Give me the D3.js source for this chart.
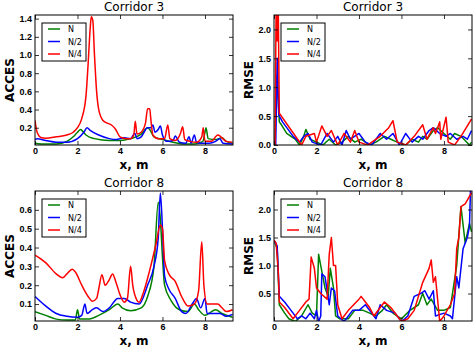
<!DOCTYPE html>
<html>
<head>
<meta charset="utf-8">
<script src="https://cdn.jsdelivr.net/npm/d3@7"></script>
<style>
  body { margin: 0; background: #fff; }
  svg { font-family: "DejaVu Sans", sans-serif; }
  .tick text { font-size: 9px; font-weight: bold; }
  .title { font-size: 12px; }
  .alabel { font-size: 12px; font-weight: bold; }
  .legtext { font-size: 8px; }
</style>
</head>
<body>
<div id="chart"></div>
<script>
// series names + colours
const seriesNames = ["N", "N/2", "N/4"];
const seriesColors = ["#008000", "#0000ff", "#ff0000"];

// Corridor 3 - ACCES  [x, value]
const c3AccesN = [[0,0.03],[0.5,0.02],[1,0.02],[1.5,0.05],[1.8,0.1],[2,0.15],[2.15,0.18],[2.25,0.16],[2.4,0.12],[2.8,0.08],[3.5,0.06],[4,0.06],[4.5,0.08],[5,0.13],[5.3,0.2],[5.4,0.18],[5.6,0.1],[6,0.07],[6.5,0.04],[7,0.02],[7.5,0.02],[7.9,0.05],[8,0.15],[8.05,0.2],[8.15,0.08],[8.5,0.07],[8.8,0.09],[9,0.05],[9.3,0.03]];
const c3AccesN2 = [[0,0.07],[0.1,0.08],[0.5,0.06],[1,0.04],[1.5,0.04],[2,0.08],[2.3,0.15],[2.45,0.2],[2.6,0.17],[3,0.12],[3.5,0.08],[3.8,0.07],[4,0.08],[4.2,0.09],[4.5,0.08],[4.7,0.14],[4.8,0.08],[5,0.1],[5.3,0.2],[5.45,0.2],[5.55,0.23],[5.65,0.15],[5.8,0.18],[5.9,0.22],[6,0.12],[6.2,0.05],[6.5,0.06],[6.6,0.11],[6.8,0.04],[7.1,0.03],[7.25,0.1],[7.35,0.03],[7.5,0.12],[7.6,0.04],[7.8,0.03],[8.2,0.03],[8.5,0.05],[8.7,0.08],[8.85,0.03],[9.3,0.02]];
const c3AccesN4 = [[0,0.28],[0.1,0.15],[0.3,0.09],[0.5,0.085],[1,0.1],[1.5,0.12],[1.8,0.15],[2,0.2],[2.2,0.3],[2.4,0.55],[2.5,0.9],[2.6,1.3],[2.65,1.42],[2.72,1.38],[2.8,1.0],[2.9,0.6],[3,0.4],[3.2,0.28],[3.4,0.25],[3.6,0.23],[3.8,0.18],[4,0.1],[4.3,0.08],[4.5,0.08],[4.65,0.12],[4.72,0.27],[4.8,0.13],[5,0.15],[5.2,0.25],[5.3,0.41],[5.4,0.41],[5.45,0.3],[5.55,0.12],[5.8,0.08],[6.1,0.08],[6.25,0.23],[6.35,0.08],[6.6,0.06],[6.85,0.14],[6.95,0.21],[7.05,0.07],[7.3,0.05],[7.6,0.04],[7.85,0.1],[7.92,0.2],[8,0.05],[8.3,0.05],[8.6,0.12],[8.75,0.1],[9,0.05],[9.3,0.04]];

// Corridor 3 - RMSE
const c3RmseN = [[0.05,0],[0.12,1.2],[0.2,0.8],[0.25,0.4],[0.35,0.35],[0.6,0.2],[0.8,0.15],[1,0.1],[1.2,0],[1.4,0.15],[1.5,0.27],[1.7,0.1],[2,0.05],[2.3,0],[2.6,0.1],[2.9,0],[3.2,0.05],[3.5,0.15],[3.8,0.05],[4.1,0.1],[4.5,0],[4.8,0.05],[5.2,0.15],[5.5,0.1],[5.8,0.05],[6.2,0],[6.5,0.1],[6.8,0.05],[7,0.15],[7.2,0.1],[7.5,0.25],[7.7,0.3],[8,0.2],[8.3,0.1],[8.5,0.2],[8.8,0.15],[9.2,0],[9.3,0.05]];
const c3RmseN2 = [[0.08,0],[0.15,1.5],[0.22,0.55],[0.25,0.5],[0.4,0.4],[0.6,0.3],[0.9,0.15],[1.2,0.05],[1.4,0.15],[1.6,0.2],[1.8,0.05],[2.2,0],[2.5,0.2],[2.8,0.05],[3,0.15],[3.2,0],[3.4,0.25],[3.6,0.1],[4,0.2],[4.3,0.05],[4.6,0],[5,0.2],[5.3,0.1],[5.6,0.2],[5.9,0],[6.2,0.2],[6.5,0.05],[6.8,0.15],[7,0.1],[7.3,0.25],[7.5,0.3],[7.8,0.2],[8.1,0.15],[8.3,0.2],[8.6,0.1],[8.9,0.15],[9.1,0.1],[9.3,0.25]];
const c3RmseN4 = [[0,0],[0.05,0],[0.1,2.4],[0.15,1.8],[0.2,2.4],[0.25,0.55],[1.3,0],[1.5,0.15],[1.9,0.2],[2,0.05],[2.25,0.33],[2.5,0.15],[2.7,0.25],[3,0],[3.3,0.2],[3.6,0.05],[3.8,0.25],[4,0.05],[4.4,0],[5,0.15],[5.4,0.3],[5.6,0.42],[5.8,0.05],[6.2,0],[6.6,0.15],[7,0.35],[7.2,0.1],[7.5,0.3],[7.6,0.2],[7.8,0.4],[7.85,0.1],[8.1,0.48],[8.2,0.05],[8.5,0],[8.8,0.15],[9.3,0.45]];

// Corridor 8 - ACCES
const c8AccesN = [[0,0.06],[0.5,0.04],[1,0.02],[1.5,0.015],[1.9,0.015],[2,0.07],[2.1,0.02],[2.5,0.02],[3,0.04],[3.5,0.07],[3.9,0.1],[4.1,0.08],[4.5,0.065],[5,0.08],[5.3,0.14],[5.6,0.3],[5.8,0.64],[5.9,0.55],[6,0.35],[6.1,0.2],[6.4,0.12],[6.8,0.07],[7.2,0.06],[7.5,0.1],[7.7,0.07],[8,0.04],[8.5,0.07],[8.8,0.05],[9.3,0.03]];
const c8AccesN2 = [[0,0.14],[0.5,0.09],[1,0.05],[1.5,0.035],[2,0.03],[2.2,0.04],[2.35,0.1],[2.45,0.05],[2.7,0.07],[2.9,0.08],[3.2,0.06],[3.5,0.08],[3.9,0.13],[4.2,0.13],[4.5,0.11],[4.9,0.1],[5.3,0.2],[5.6,0.3],[5.8,0.45],[5.9,0.69],[6,0.5],[6.1,0.25],[6.3,0.18],[6.6,0.13],[6.9,0.06],[7.1,0.05],[7.4,0.1],[7.6,0.13],[7.8,0.08],[8,0.13],[8.1,0.05],[8.4,0.05],[8.7,0.05],[9,0.035],[9.3,0.045]];
const c8AccesN4 = [[0,0.36],[0.5,0.32],[1,0.26],[1.3,0.24],[1.5,0.26],[1.75,0.285],[1.9,0.27],[2.2,0.2],[2.5,0.14],[2.7,0.115],[2.9,0.13],[3,0.18],[3.15,0.255],[3.3,0.2],[3.5,0.23],[3.65,0.26],[3.8,0.22],[4,0.15],[4.2,0.11],[4.35,0.13],[4.5,0.3],[4.6,0.2],[4.8,0.12],[4.9,0.11],[5.1,0.16],[5.4,0.28],[5.7,0.42],[5.9,0.52],[6,0.5],[6.1,0.33],[6.3,0.26],[6.6,0.22],[6.9,0.14],[7.2,0.09],[7.5,0.1],[7.7,0.17],[7.85,0.43],[7.95,0.2],[8.1,0.1],[8.4,0.1],[8.6,0.1],[8.8,0.08],[9,0.06],[9.3,0.07]];

// Corridor 8 - RMSE
const c8RmseN = [[0,1.45],[0.15,1.3],[0.25,0.3],[0.5,0.15],[0.7,0.05],[1,0],[1.3,0.1],[1.6,0.3],[1.8,0.15],[2,0.1],[2.1,1.2],[2.2,1.0],[2.4,0.6],[2.55,0.45],[2.65,0.95],[2.8,0.6],[2.9,0.1],[3.1,0.05],[3.5,0.05],[3.8,0.2],[4.2,0.2],[4.5,0.15],[4.8,0.1],[5.1,0.2],[5.3,0.3],[5.6,0.15],[6,0.05],[6.4,0.2],[6.8,0.3],[7,0.5],[7.2,0.3],[7.4,0.4],[7.7,0.2],[8,0.2],[8.3,0.25],[8.5,0.75],[8.6,1.0],[8.8,2.05],[9,1.4],[9.2,1.75],[9.3,1.6]];
const c8RmseN2 = [[0,1.45],[0.15,1.35],[0.25,0.45],[0.5,0.35],[0.8,0.2],[1.1,0.05],[1.3,0.1],[1.5,0.05],[1.7,0.15],[1.9,0.05],[2,0.2],[2.1,0],[2.2,0.1],[2.25,0.85],[2.4,0.8],[2.6,0.3],[2.7,0.6],[2.85,0.55],[3,0.1],[3.3,0],[3.7,0.2],[4,0.2],[4.3,0.3],[4.6,0.15],[4.8,0.05],[5,0.3],[5.3,0.2],[5.7,0.15],[6,0],[6.3,0.1],[6.6,0.45],[6.9,0.5],[7.1,0.55],[7.3,0.4],[7.5,0.55],[7.6,0.1],[8,0.15],[8.3,0.1],[8.4,0.05],[8.6,0.8],[8.7,0.6],[8.9,1.3],[9.1,1.5],[9.2,1.7],[9.25,2.35]];
const c8RmseN4 = [[0,1.45],[0.1,1.4],[0.2,0.9],[0.25,0.35],[0.5,0.25],[0.9,0.05],[1.2,0.2],[1.5,0.35],[1.65,0.4],[1.75,1.15],[1.9,0.95],[2,0.6],[2.2,0.5],[2.5,0.4],[2.6,1.2],[2.7,1.5],[2.8,1.0],[2.9,1.0],[3,0.3],[3.2,0.05],[3.5,0.2],[4,0.4],[4.1,0.45],[4.3,0.35],[4.5,0.25],[4.7,0.1],[5,0.25],[5.2,0.35],[5.5,0.25],[5.8,0.1],[6,0],[6.3,0.05],[6.6,0.2],[7,0.7],[7.3,0.95],[7.4,1.1],[7.5,0.7],[7.6,0.8],[7.8,0],[8,0.1],[8.3,0.3],[8.5,0.5],[8.6,1.3],[8.7,1.5],[8.8,2.05],[9,2.1],[9.3,2.3]];

// tick values
const xTicks = [0, 2, 4, 6, 8];
const c3AccesTicks = [0.2, 0.4, 0.6, 0.8, 1.0, 1.2, 1.4];
const c3RmseTicks = [0.0, 0.5, 1.0, 1.5, 2.0];
const c8AccesTicks = [0.1, 0.2, 0.3, 0.4, 0.5, 0.6];
const c8RmseTicks = [0.5, 1.0, 1.5, 2.0];

const panels = [
  { title: "Corridor 3", ylabel: "ACCES", x0: 35, y0: 15, ydom: [0.01, 1.44], yticks: c3AccesTicks, smooth: true, series: [c3AccesN, c3AccesN2, c3AccesN4] },
  { title: "Corridor 3", ylabel: "RMSE", x0: 274, y0: 15, ydom: [0, 2.25], yticks: c3RmseTicks, smooth: false, series: [c3RmseN, c3RmseN2, c3RmseN4] },
  { title: "Corridor 8", ylabel: "ACCES", x0: 35, y0: 191, ydom: [0.01, 0.70], yticks: c8AccesTicks, smooth: true, series: [c8AccesN, c8AccesN2, c8AccesN4] },
  { title: "Corridor 8", ylabel: "RMSE", x0: 274, y0: 191, ydom: [0.01, 2.33], yticks: c8RmseTicks, smooth: false, series: [c8RmseN, c8RmseN2, c8RmseN4] }
];

const W = 474, H = 352;
const pw = 198, ph = 130;

const svg = d3.select("#chart").append("svg")
  .attr("width", W)
  .attr("height", H);

panels.forEach((p, pi) => {
  const g = svg.append("g").attr("transform", `translate(${p.x0}, ${p.y0})`);

  const x = d3.scaleLinear().domain([0, 9.32]).range([0, pw]);
  const y = d3.scaleLinear().domain(p.ydom).range([ph, 0]);

  g.append("clipPath").attr("id", "clip" + pi)
    .append("rect").attr("width", pw).attr("height", ph);

  const line = d3.line()
    .x(d => x(d[0]))
    .y(d => y(d[1]))
    .curve(p.smooth ? d3.curveMonotoneX : d3.curveLinear);

  const lines = g.append("g").attr("clip-path", `url(#clip${pi})`);
  p.series.forEach((s, i) => {
    lines.append("path")
      .datum(s)
      .attr("d", line)
      .attr("fill", "none")
      .attr("stroke", seriesColors[i])
      .attr("stroke-width", 1.5)
      .attr("stroke-linejoin", "round");
  });

  // axes, matplotlib classic style: ticks inward on all sides
  const fmt = d3.format(".1f");
  g.append("g").attr("transform", `translate(0, ${ph})`)
    .call(d3.axisBottom(x).tickValues(xTicks).tickSizeInner(-4).tickSizeOuter(0).tickPadding(3).tickFormat(d3.format("d")));
  g.append("g")
    .call(d3.axisTop(x).tickValues(xTicks).tickSizeInner(-4).tickSizeOuter(0).tickFormat(""));
  g.append("g")
    .call(d3.axisLeft(y).tickValues(p.yticks).tickSizeInner(-4).tickSizeOuter(0).tickPadding(3).tickFormat(fmt));
  g.append("g").attr("transform", `translate(${pw}, 0)`)
    .call(d3.axisRight(y).tickValues(p.yticks).tickSizeInner(-4).tickSizeOuter(0).tickFormat(""));
  g.selectAll(".domain").remove();
  g.selectAll(".tick line").attr("stroke", "#000").attr("stroke-width", 0.8);
  g.selectAll(".tick text").attr("fill", "#000");

  g.append("rect")
    .attr("width", pw).attr("height", ph)
    .attr("fill", "none").attr("stroke", "#000").attr("stroke-width", 1);

  g.append("text").attr("class", "title")
    .attr("x", pw / 2).attr("y", -4)
    .attr("text-anchor", "middle")
    .text(p.title);

  g.append("text").attr("class", "alabel")
    .attr("x", pw / 2).attr("y", ph + 24)
    .attr("text-anchor", "middle")
    .text("x, m");

  g.append("text").attr("class", "alabel")
    .attr("transform", `translate(-21, ${ph / 2}) rotate(-90)`)
    .attr("text-anchor", "middle")
    .text(p.ylabel);

  // legend
  const leg = g.append("g").attr("transform", "translate(7, 8)");
  leg.append("rect")
    .attr("width", 44).attr("height", 38)
    .attr("fill", "#fff").attr("stroke", "#000").attr("stroke-width", 1);
  seriesNames.forEach((n, i) => {
    const yy = 6 + i * 12.5;
    leg.append("line")
      .attr("x1", 6).attr("x2", 18)
      .attr("y1", yy).attr("y2", yy)
      .attr("stroke", seriesColors[i]).attr("stroke-width", 1.5);
    leg.append("text").attr("class", "legtext")
      .attr("x", 26).attr("y", yy + 3)
      .text(n);
  });
});
</script>
</body>
</html>
